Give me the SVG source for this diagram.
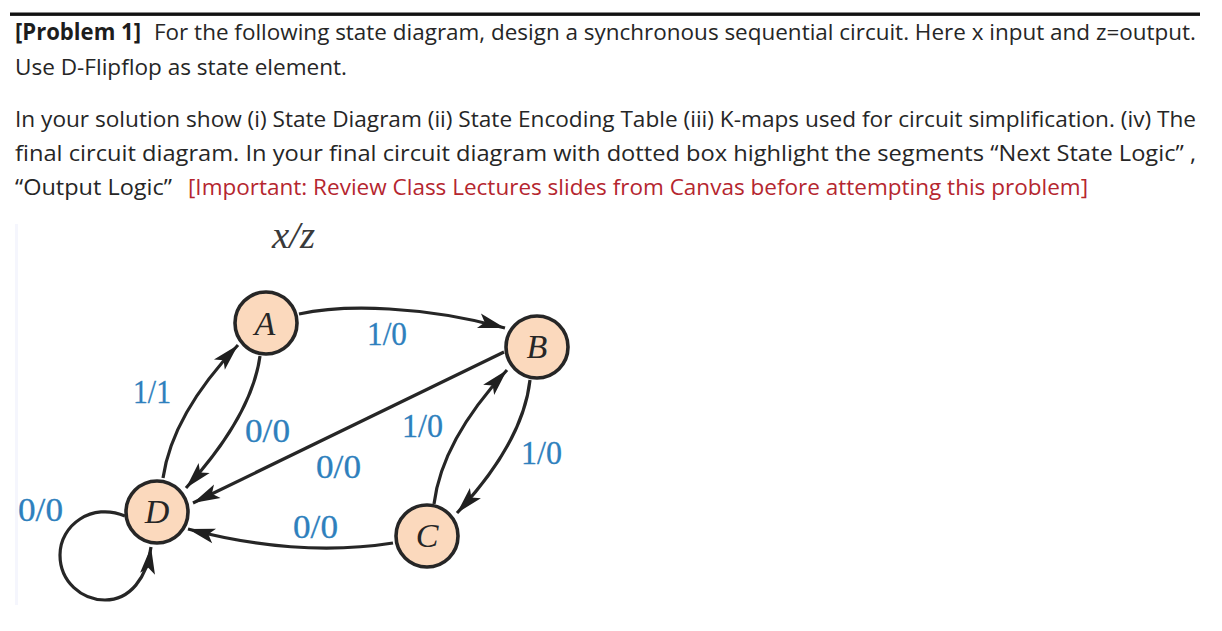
<svg xmlns="http://www.w3.org/2000/svg" width="1222" height="631" viewBox="0 0 1222 631">
<style>
.t{font-family:"Open Sans","Noto Sans","Liberation Sans",sans-serif;font-size:22.5px;fill:#262626}
.b{font-weight:700;fill:#1d1d1d}
.r{fill:#b5262f}
.l{font-family:"Liberation Serif",serif;font-size:34px;fill:#2e80bd;stroke:#2e80bd;stroke-width:.3}
.n{font-family:"Liberation Serif",serif;font-style:italic;font-size:34px;fill:#262626;text-anchor:middle}
.c{fill:none;stroke:#262626;stroke-width:3.2}
.a{marker-end:url(#h)}
.s{fill:#fbd9bd;stroke:#262626;stroke-width:3.6}
</style>
<defs>
<marker id="h" markerUnits="userSpaceOnUse" markerWidth="32" markerHeight="22" refX="30" refY="11" orient="auto">
<path d="M30 11 L3 3.5 L9 11 L3 18.5 Z" fill="#1f1f1f"/>
</marker>
</defs>
<rect width="1222" height="631" fill="#fff"/>
<rect x="15" y="224" width="3" height="381" fill="#f5f6fd"/>
<rect x="10" y="12.5" width="1190" height="3.4" fill="#111"/>
<g id="problem-text">
<text class="t b" x="15" y="40" textLength="126" lengthAdjust="spacingAndGlyphs">[Problem 1]</text>
<text class="t" x="154" y="40" textLength="1042" lengthAdjust="spacingAndGlyphs">For the following state diagram, design a synchronous sequential circuit. Here x input and z=output.</text>
<text class="t" x="15" y="75" textLength="332" lengthAdjust="spacingAndGlyphs">Use D-Flipflop as state element.</text>
<text class="t" x="15" y="127" textLength="1181" lengthAdjust="spacingAndGlyphs">In your solution show (i) State Diagram (ii) State Encoding Table (iii) K-maps used for circuit simplification. (iv) The</text>
<text class="t" x="15" y="161" textLength="1181" lengthAdjust="spacingAndGlyphs">final circuit diagram. In your final circuit diagram with dotted box highlight the segments “Next State Logic” ,</text>
<text class="t" x="15" y="195" textLength="157" lengthAdjust="spacingAndGlyphs">“Output Logic”</text>
<text class="t r" x="188" y="195" textLength="900" lengthAdjust="spacingAndGlyphs">[Important: Review Class Lectures slides from Canvas before attempting this problem]</text>
</g>
<text id="legend" x="272" y="248" font-family="Liberation Serif, serif" font-style="italic" font-size="38" fill="#3a3a3a" textLength="43" lengthAdjust="spacingAndGlyphs">x/z</text>
<g id="connectors">
<path class="c a" d="M299 314 C345 304 425 306 505 328"/>
<path class="c a" d="M504 352 L193 503"/>
<path class="c a" d="M530 380 C525 425 497 470 457 513"/>
<path class="c a" d="M434 504 C440 455 470 410 507 370"/>
<path class="c a" d="M393 543 C330 553 260 548 188 529"/>
<path class="c a" d="M260 356 C254 400 225 445 186 488"/>
<path class="c a" d="M163 478 C170 430 200 385 238 345"/>
<path class="c a" d="M125 516 C92 502 60 525 60 555 C60 582 82 600 105 600 C130 600 147 578 151 547"/>
</g>
<g id="node-A"><circle class="s" cx="266" cy="323" r="31"/><text class="n" x="265" y="335">A</text></g>
<g id="node-B"><circle class="s" cx="537" cy="347" r="31"/><text class="n" x="537" y="358">B</text></g>
<g id="node-C"><circle class="s" cx="427" cy="536" r="31"/><text class="n" x="427" y="547">C</text></g>
<g id="node-D"><circle class="s" cx="157" cy="512" r="31"/><text class="n" x="157" y="523">D</text></g>
<g id="labels">
<text class="l" x="133" y="403" textLength="38" lengthAdjust="spacingAndGlyphs">1/1</text>
<text class="l" x="18" y="521" textLength="45" lengthAdjust="spacingAndGlyphs">0/0</text>
<text class="l" x="245" y="442" textLength="45" lengthAdjust="spacingAndGlyphs">0/0</text>
<text class="l" x="316" y="478" textLength="45" lengthAdjust="spacingAndGlyphs">0/0</text>
<text class="l" x="293" y="538" textLength="45" lengthAdjust="spacingAndGlyphs">0/0</text>
<text class="l" x="367" y="345" textLength="40" lengthAdjust="spacingAndGlyphs">1/0</text>
<text class="l" x="402" y="437" textLength="41" lengthAdjust="spacingAndGlyphs">1/0</text>
<text class="l" x="521" y="464" textLength="41" lengthAdjust="spacingAndGlyphs">1/0</text>
</g>
</svg>
